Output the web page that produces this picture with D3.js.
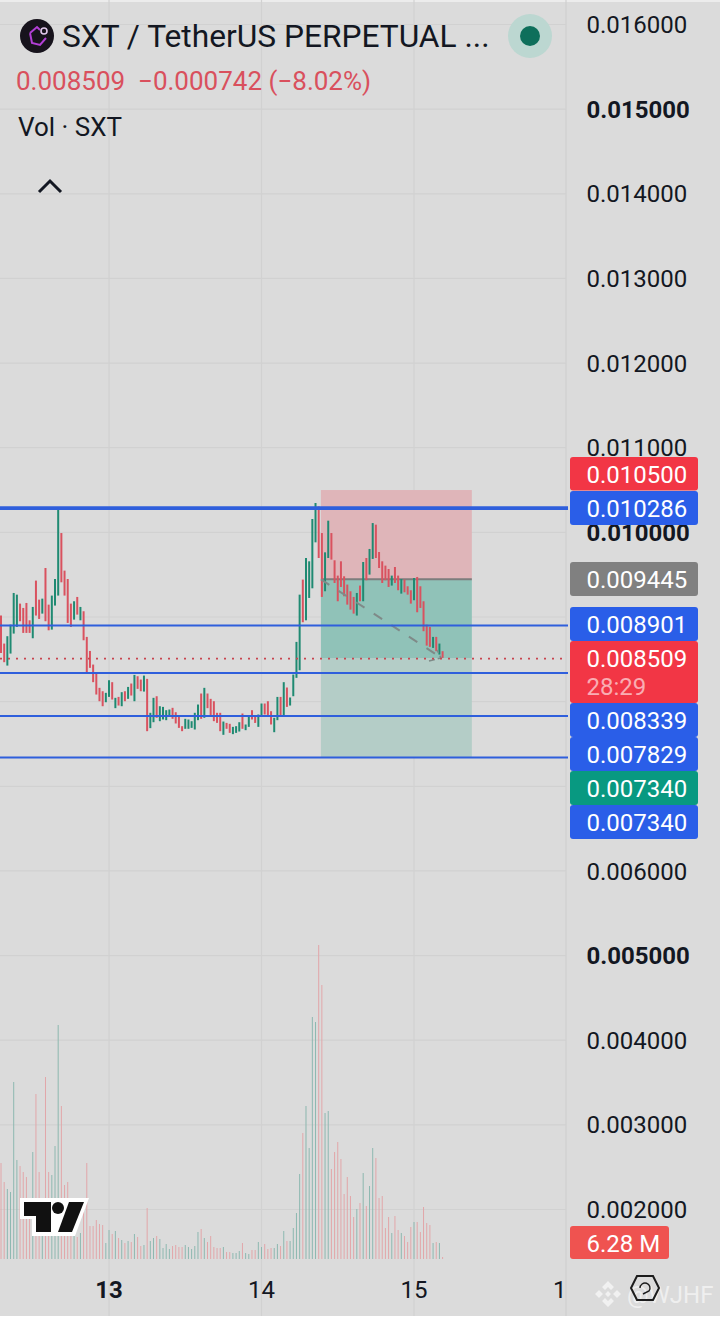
<!DOCTYPE html>
<html>
<head>
<meta charset="utf-8">
<script src="https://cdn.jsdelivr.net/npm/d3@7"></script>
<style>
    html, body { margin: 0; padding: 0; background: #dbdbdb; }
    svg { display: block; font-family: Roboto, sans-serif; }
</style>
</head>
<body>
<div id="chart"></div>
<script>
// 30 minute bars, prices in millionths of USDT
const highs = [9017,8686,8773,8910,9284,9264,9158,9107,9166,8961,9119,9430,9205,9217,9579,9146,9253,9449,10276,9992,
    9548,9449,9158,9186,9237,9119,9068,8765,8599,8438,8332,8163,8123,8104,8253,8230,8045,8056,8112,8123,
    8174,8214,8316,8300,8261,8308,8269,7868,8045,8064,7946,7938,7899,7907,7927,7875,7836,7710,7797,7789,
    7769,7868,7966,8096,8163,8096,8033,8005,7868,7868,7765,7749,7738,7702,7710,7757,7860,7730,7828,7899,
    7828,7848,7978,7978,8005,7887,7809,8056,8056,8230,8167,8049,8320,8706,9264,9442,9697,9658,10158,10347,
    10307,9992,9764,10138,9992,9670,9489,9658,9481,9383,9304,9237,9284,9371,9650,9697,9804,10110,10091,9768,
    9658,9607,9567,9489,9591,9489,9449,9442,9363,9316,9461,9473,9363,9186,8910,8883,8765,8765,8686,8596];
const lows = [8576,8466,8426,8568,8804,8883,8950,8812,8812,8812,8749,9017,8977,9040,8950,8843,8851,9135,9253,9410,
    9253,8930,8883,8969,9028,8961,8725,8348,8399,8230,8084,8005,7946,7993,8056,8025,7923,7954,7946,8005,
    8033,8072,8005,8151,8123,8119,7651,7687,7757,7809,7769,7789,7781,7828,7797,7742,7690,7651,7679,7679,
    7690,7671,7781,7797,7809,7923,7828,7769,7749,7651,7608,7679,7631,7616,7631,7647,7679,7663,7702,7789,
    7749,7702,7828,7848,7828,7730,7639,7781,7828,7828,7938,7954,8064,8281,8371,8938,8961,9225,9339,9882,
    9697,9237,9304,9697,9678,9402,9186,9355,9245,9146,9087,9040,9017,9186,9186,9434,9501,9686,9697,9579,
    9402,9434,9355,9371,9402,9316,9276,9292,9264,9158,9198,9056,9107,8832,8662,8647,8635,8596,8556,8517];
// 1 = up bar, 0 = down bar
const rising = [0,0,1,1,1,1,0,0,0,0,1,0,0,1,0,0,1,1,1,0,
    0,0,0,1,0,1,0,0,0,0,0,0,0,1,1,0,1,0,1,0,
    1,0,1,0,0,1,0,1,1,0,1,1,1,1,0,0,0,0,1,1,
    1,1,1,0,1,0,0,0,0,0,1,0,0,1,1,1,0,1,1,0,
    0,1,1,0,0,0,1,1,0,1,0,1,1,1,1,0,1,1,1,1,
    0,0,1,1,0,0,0,0,0,0,0,0,1,0,1,0,1,1,0,0,
    0,0,0,1,0,0,1,0,0,0,1,0,0,0,0,0,1,0,1,0];
// volume in units of about 3 M (last bar = 6.28 M)
const volumes = [96,77,70,67,177,99,93,87,82,60,107,165,87,60,182,87,84,113,234,153,
    74,77,39,36,22,26,47,96,33,33,39,35,34,16,29,25,28,21,19,16,
    18,17,25,22,13,14,51,18,21,23,20,11,15,10,13,14,12,12,14,12,
    10,13,27,30,21,17,23,12,11,11,12,7,7,6,6,8,16,6,5,9,
    9,17,12,15,10,11,11,15,13,28,18,18,31,46,85,126,153,111,242,237,
    314,274,146,148,90,107,117,100,65,82,63,42,50,56,86,53,73,111,101,61,
    63,31,42,26,43,29,26,23,17,32,37,37,27,52,36,34,16,17,16,2];

const priceTicks = [0.016,0.015,0.014,0.013,0.012,0.011,0.010,0.009,0.008,0.007,0.006,0.005,0.004,0.003,0.002];
const boldTicks = [0.015,0.010,0.005];
const hiddenTicks = [0.009,0.008,0.007]; // covered by the price labels
const dayBars = [34,82,130,178];
const dayLabels = ["13","14","15","16"];
const levelLines = [0.010286,0.008901,0.008339,0.007829,0.007340];

const entryPrice = 0.009445, stopPrice = 0.010500, targetPrice = 0.007340, lastPrice = 0.008509;
const positionBars = [100.7,148.2]; // left and right edge of the position tool
const projection = [[100.7,0.009445],[139,0.008509]];

const priceTags = [
    {text:"0.010500", sub:null, fill:"#f23645", top:457, bottom:490.5},
    {text:"0.010286", sub:null, fill:"#2a5ee8", top:491, bottom:525},
    {text:"0.009445", sub:null, fill:"#808080", top:562, bottom:596},
    {text:"0.008901", sub:null, fill:"#2a5ee8", top:607, bottom:641},
    {text:"0.008509", sub:"28:29", fill:"#f23645", top:641, bottom:703},
    {text:"0.008339", sub:null, fill:"#2a5ee8", top:703, bottom:737},
    {text:"0.007829", sub:null, fill:"#2a5ee8", top:737, bottom:771},
    {text:"0.007340", sub:null, fill:"#089981", top:771, bottom:805},
    {text:"0.007340", sub:null, fill:"#2a5ee8", top:805, bottom:839}
];

const upColor = "#1f8a72", downColor = "#d9525f", gridColor = "#d1d1d1", blue = "#2f5fdc";
const width = 720, height = 1320, axisX = 566;

const svg = d3.select("#chart").append("svg").attr("width", width).attr("height", height);
svg.append("rect").attr("width", width).attr("height", height).attr("fill", "#dbdbdb");
svg.append("rect").attr("width", width).attr("height", 2).attr("fill", "#ececec");
svg.append("rect").attr("y", 1316).attr("width", width).attr("height", 4).attr("fill", "#ffffff");

svg.append("defs").append("clipPath").attr("id", "plot")
    .append("rect").attr("width", axisX).attr("height", height);

const x = d3.scaleLinear().domain([0, 139]).range([1, 442.6]);
const y = d3.scaleLinear().domain([0.016, 0.002]).range([24.5, 1209.5]);
const yVol = d3.scaleLinear().domain([0, 314]).range([1259, 945]);
const micro = v => v * 1e-6;

// grid
const plot = svg.append("g").attr("clip-path", "url(#plot)");
plot.selectAll(".hgrid").data(priceTicks).enter().append("line")
    .attr("x1", 0).attr("x2", axisX).attr("y1", d => y(d)).attr("y2", d => y(d))
    .attr("stroke", gridColor).attr("stroke-width", 1.2);
plot.selectAll(".vgrid").data(dayBars).enter().append("line")
    .attr("x1", d => x(d)).attr("x2", d => x(d)).attr("y1", 0).attr("y2", 1316)
    .attr("stroke", gridColor).attr("stroke-width", 1.2);
svg.append("line").attr("x1", axisX).attr("x2", axisX).attr("y1", 0).attr("y2", 1316)
    .attr("stroke", gridColor).attr("stroke-width", 1.2);

// volume
plot.selectAll(".vol").data(volumes).enter().append("line")
    .attr("x1", (d, i) => x(i)).attr("x2", (d, i) => x(i))
    .attr("y1", d => yVol(d)).attr("y2", yVol(0))
    .attr("stroke", (d, i) => rising[i] ? "#8db8b0" : "#e2a6a9")
    .attr("stroke-width", 1);

// position tool
const boxLeft = x(positionBars[0]), boxWidth = x(positionBars[1]) - x(positionBars[0]);
const zones = [[stopPrice, entryPrice, "#dfb5b9"], [entryPrice, lastPrice, "#90c2b8"], [lastPrice, targetPrice, "#b4cdc7"]];
plot.selectAll(".zone").data(zones).enter().append("rect")
    .attr("x", boxLeft).attr("width", boxWidth)
    .attr("y", d => y(d[0])).attr("height", d => y(d[1]) - y(d[0]))
    .attr("fill", d => d[2]);
plot.append("line").attr("x1", boxLeft).attr("x2", boxLeft + boxWidth)
    .attr("y1", y(entryPrice)).attr("y2", y(entryPrice))
    .attr("stroke", "#7d7d7d").attr("stroke-width", 2);

// candles
plot.selectAll(".bar").data(highs).enter().append("line")
    .attr("x1", (d, i) => x(i)).attr("x2", (d, i) => x(i))
    .attr("y1", d => y(micro(d))).attr("y2", (d, i) => y(micro(lows[i])))
    .attr("stroke", (d, i) => rising[i] ? upColor : downColor)
    .attr("stroke-width", 2);

// projected path
const pathLine = d3.line().x(d => x(d[0])).y(d => y(d[1]));
plot.append("path").attr("d", pathLine(projection)).attr("fill", "none")
    .attr("stroke", "#7f8a88").attr("stroke-width", 2).attr("stroke-dasharray", "10 11");
plot.append("path").attr("d", "M429,661L441,658L437,650").attr("fill", "none")
    .attr("stroke", "#7f8a88").attr("stroke-width", 1.6).attr("stroke-dasharray", "6 3");

// levels
svg.selectAll(".level").data(levelLines).enter().append("line")
    .attr("x1", 0).attr("x2", 568).attr("y1", d => y(d)).attr("y2", d => y(d))
    .attr("stroke", blue).attr("stroke-width", (d, i) => i == 0 ? 3.6 : 2);
plot.append("line").attr("x1", 0).attr("x2", axisX)
    .attr("y1", y(lastPrice)).attr("y2", y(lastPrice))
    .attr("stroke", "#c8454f").attr("stroke-width", 1.8).attr("stroke-dasharray", "2 6");

// price axis
svg.selectAll(".tick-label").data(priceTicks.filter(d => !hiddenTicks.includes(d))).enter().append("text")
    .attr("x", 586.5).attr("y", d => y(d)).attr("dy", "0.36em")
    .attr("font-size", 24)
    .attr("font-weight", d => boldTicks.includes(d) ? 700 : 400)
    .attr("fill", "#131722")
    .text(d => d.toFixed(6));

const tags = svg.selectAll(".tag").data(priceTags).enter().append("g");
tags.append("rect").attr("x", 570).attr("width", 128)
    .attr("y", d => d.top).attr("height", d => d.bottom - d.top)
    .attr("rx", 3).attr("fill", d => d.fill);
tags.append("text").attr("x", 586.5).attr("y", d => d.top + 17).attr("dy", "0.36em")
    .attr("font-size", 24).attr("fill", "#ffffff").text(d => d.text);
tags.filter(d => d.sub).append("text").attr("x", 586.5).attr("y", d => d.top + 45).attr("dy", "0.36em")
    .attr("font-size", 24).attr("fill", "#ffffff").attr("fill-opacity", 0.6).text(d => d.sub);

// volume tag
svg.append("rect").attr("x", 570).attr("y", 1226).attr("width", 99).attr("height", 33)
    .attr("rx", 3).attr("fill", "#ef5350");
svg.append("text").attr("x", 586.5).attr("y", 1243).attr("dy", "0.36em")
    .attr("font-size", 24).attr("fill", "#ffffff").text("6.28 M");

// time axis
plot.selectAll(".day").data(dayBars).enter().append("text")
    .attr("x", d => x(d)).attr("y", 1289).attr("dy", "0.36em")
    .attr("text-anchor", "middle").attr("font-size", 24)
    .attr("font-weight", (d, i) => i == 0 ? 700 : 400)
    .attr("fill", "#131722")
    .text((d, i) => dayLabels[i]);

// header
const coin = svg.append("g").attr("transform", "translate(37,36)");
coin.append("circle").attr("r", 17).attr("fill", "#17131c");
coin.append("path").attr("d", "M-7,-3L0,-9L3,-6M-7,-3L-5,7L3,9L9,2").attr("fill", "none")
    .attr("stroke", "#b23fd6").attr("stroke-width", 2);
coin.append("circle").attr("cx", 7).attr("cy", -5).attr("r", 3).attr("fill", "none")
    .attr("stroke", "#e0c8ea").attr("stroke-width", 1.6);

svg.append("text").attr("x", 62).attr("y", 47).attr("font-size", 31.7).attr("fill", "#131722")
    .text("SXT / TetherUS PERPETUAL ...");
svg.append("text").attr("x", 16).attr("y", 90).attr("font-size", 26).attr("fill", "#d9505d")
    .attr("xml:space", "preserve").text("0.008509  \u22120.000742 (\u22128.02%)");
svg.append("text").attr("x", 18).attr("y", 136).attr("font-size", 26).attr("fill", "#131722")
    .text("Vol \u00b7 SXT");
svg.append("path").attr("d", "M39,192L50,181L61,192").attr("fill", "none")
    .attr("stroke", "#131722").attr("stroke-width", 3);
svg.append("circle").attr("cx", 530).attr("cy", 36).attr("r", 22).attr("fill", "#bcd7d1");
svg.append("circle").attr("cx", 530).attr("cy", 36).attr("r", 10).attr("fill", "#0e6f5b");

// TradingView mark
const tv = svg.append("g");
tv.append("path").attr("d", "M20,1198H89L75,1236H32V1219H20Z").attr("fill", "#ffffff");
tv.append("path").attr("d", "M24,1202H51V1232H36V1216H24Z").attr("fill", "#111111");
tv.append("circle").attr("cx", 58).attr("cy", 1208).attr("r", 6).attr("fill", "#111111");
tv.append("path").attr("d", "M69,1202H84L72,1232H58Z").attr("fill", "#111111");

// watermark
const wm = svg.append("g").attr("opacity", 0.9);
const dia = wm.append("g").attr("transform", "translate(608,1294)");
dia.append("path").attr("d", "M0,-13L6,-7L3,-4L0,-7L-3,-4L-6,-7ZM0,13L6,7L3,4L0,7L-3,4L-6,7ZM-13,0L-9,-4L-5,0L-9,4ZM13,0L9,-4L5,0L9,4ZM0,-3L3,0L0,3L-3,0Z")
    .attr("fill", "#f4f4f4");
wm.append("text").attr("x", 627).attr("y", 1303).attr("font-size", 24).attr("fill", "#f2f2f2")
    .text("@WJHF");
svg.append("path").attr("d", "M637,1276H653L659,1288L653,1300H637L631,1288Z").attr("fill", "none")
    .attr("stroke", "#1c1c1c").attr("stroke-width", 2);
svg.append("path").attr("d", "M640,1288a5,5 0 1 1 9,3l-6,3").attr("fill", "none")
    .attr("stroke", "#1c1c1c").attr("stroke-width", 1.4);
</script>
</body>
</html>
